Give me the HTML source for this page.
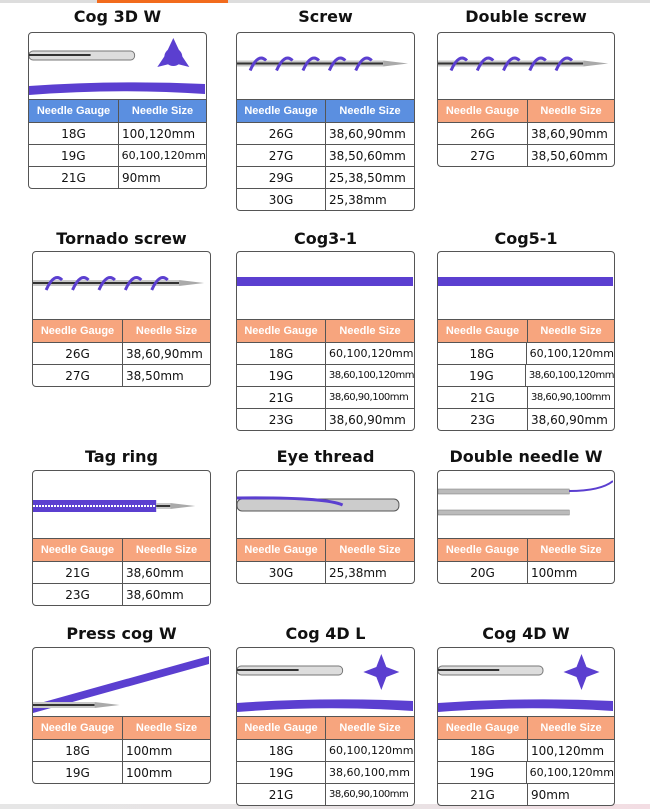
<!DOCTYPE html>
<html><head><meta charset="utf-8">
<style>
*{box-sizing:border-box;margin:0;padding:0}
body{width:650px;height:809px;background:#fff;position:relative;overflow:hidden;font-family:"DejaVu Sans","Liberation Sans",sans-serif}
.title{position:absolute;font-weight:bold;font-size:16px;color:#111;text-align:center;white-space:nowrap;transform:translateX(-50%);line-height:20px}
.card{position:absolute;border:1.5px solid #555;border-radius:4px;overflow:hidden;background:#fff}
.pic{position:absolute;left:0;top:0;width:100%}
.row{position:absolute;left:0;width:100%;border-top:1.5px solid #555;display:flex}
.row div{height:100%;display:flex;align-items:center}
.c1{justify-content:center;border-right:1.5px solid #555;font-size:12px;color:#111}
.c2{padding-left:3px;font-size:12px;color:#111;white-space:nowrap}
.hd div{color:#fff;font-weight:bold;font-size:11px;font-family:"Liberation Sans",sans-serif;justify-content:center;padding:0}
.hd .c1{border-right:1.5px solid #555}
</style></head>
<body>
<div style="position:absolute;left:0;top:0;width:650px;height:3px;background:#ddd"></div>
<div style="position:absolute;left:97px;top:0;width:131px;height:3px;background:#f26b1d"></div>
<div style="position:absolute;left:0;top:804px;width:650px;height:5px;background:linear-gradient(90deg,#e6e6e6,#e8e2e4 60%,#f3dde3)"></div>
<div id="root"></div>
<script>
var productNames=["Cog 3D W","Screw","Double screw","Tornado screw","Cog3-1","Cog5-1","Tag ring","Eye thread","Double needle W","Press cog W","Cog 4D L","Cog 4D W"];
var gauges=[["18G","19G","21G"],["26G","27G","29G","30G"],["26G","27G"],["26G","27G"],["18G","19G","21G","23G"],["18G","19G","21G","23G"],["21G","23G"],["30G"],["20G"],["18G","19G"],["18G","19G","21G"],["18G","19G","21G"]];
var sizes=[["100,120mm","60,100,120mm","90mm"],["38,60,90mm","38,50,60mm","25,38,50mm","25,38mm"],["38,60,90mm","38,50,60mm"],["38,60,90mm","38,50mm"],["60,100,120mm","38,60,100,120mm","38,60,90,100mm","38,60,90mm"],["60,100,120mm","38,60,100,120mm","38,60,90,100mm","38,60,90mm"],["38,60mm","38,60mm"],["25,38mm"],["100mm"],["100mm","100mm"],["60,100,120mm","38,60,100,mm","38,60,90,100mm"],["100,120mm","60,100,120mm","90mm"]];
var kinds=["cog","screw","screw","screw","thread","thread","tag","eye","double","press","cog4","cog4"];
var colX=[[28,207,118],[236,415,325],[437,615,527]];
var rowY=[{t:17,b:32,h:99},{t:239,b:251,h:319},{t:457,b:470,h:538},{t:634,b:647,h:716}];
var rowXoff=[0,4,4,4];
var P="#5b3fd0";
function needle(x1,x2,y){return '<rect x="'+x1+'" y="'+(y-3)+'" width="'+(x2-x1)+'" height="6" fill="#c9c9c9"/><line x1="'+x1+'" y1="'+y+'" x2="'+x2+'" y2="'+y+'" stroke="#333" stroke-width="2"/><polygon points="'+x2+','+(y-3)+' '+(x2+25)+','+y+' '+x2+','+(y+3)+'" fill="#aaa"/>';}
function pic(k,w,h){
 var s='<svg width="'+w+'" height="'+h+'">';
 var m=h/2;
 if(k=="cog"||k=="cog4"){s+='<rect x="0" y="18" width="'+(w*0.6)+'" height="9" rx="4" fill="#ddd" stroke="#777"/><line x1="0" y1="22" x2="'+(w*0.35)+'" y2="22" stroke="#333" stroke-width="2"/>';
  s+='<path d="M0 '+(h-14)+' Q'+w/2+' '+(h-20)+' '+w+' '+(h-16)+' L'+w+' '+(h-6)+' Q'+w/2+' '+(h-12)+' 0 '+(h-5)+'Z" fill="'+P+'"/>';
  var cx=w*0.82;
  if(k=="cog")s+='<polygon points="'+cx+',5 '+(cx+8)+',22 '+(cx+16)+',34 '+cx+',30 '+(cx-16)+',34 '+(cx-8)+',22" fill="'+P+'"/><circle cx="'+cx+'" cy="24" r="9" fill="'+P+'"/>';
  else s+='<polygon points="'+cx+',6 '+(cx+5)+',19 '+(cx+18)+',24 '+(cx+5)+',29 '+cx+',42 '+(cx-5)+',29 '+(cx-18)+',24 '+(cx-5)+',19" fill="'+P+'"/>';}
 else if(k=="screw"){s+=needle(0,w*0.83,m-3);for(var i=0;i<5;i++){var x=w*0.12+i*w*0.15;s+='<path d="M'+(x-8)+' '+(m+4)+' Q'+x+' '+(m-14)+' '+(x+8)+' '+(m-6)+'" stroke="'+P+'" stroke-width="3" fill="none"/>';}}
 else if(k=="thread"){s+='<rect x="0" y="'+(m-9)+'" width="'+w+'" height="9" fill="'+P+'"/>';}
 else if(k=="tag"){s+='<rect x="0" y="'+(m-5)+'" width="'+(w*0.7)+'" height="12" fill="'+P+'"/><line x1="0" y1="'+(m+1)+'" x2="'+(w*0.7)+'" y2="'+(m+1)+'" stroke="#fff" stroke-width="2" stroke-dasharray="2 1"/>'+needle(w*0.7,w*0.78,m+1);}
 else if(k=="eye"){s+='<rect x="0" y="'+(m-6)+'" width="'+(w*0.92)+'" height="12" rx="5" fill="#ccc" stroke="#555"/><path d="M0 '+(m-7)+' Q'+w*0.5+' '+(m-8)+' '+w*0.6+' '+m+'" stroke="'+P+'" stroke-width="3" fill="none"/>';}
 else if(k=="double"){s+='<rect x="0" y="'+(m-16)+'" width="'+(w*0.75)+'" height="5" fill="#bbb" stroke="#777" stroke-width=".5"/><rect x="0" y="'+(m+5)+'" width="'+(w*0.75)+'" height="5" fill="#bbb" stroke="#777" stroke-width=".5"/><path d="M'+w*0.75+' '+(m-14)+' Q'+w*0.93+' '+(m-14)+' '+w+' '+(m-24)+'" stroke="'+P+'" stroke-width="2" fill="none"/>';}
 else if(k=="press"){s+='<path d="M0 '+(h-12)+' L'+w+' 8 L'+w+' 16 L0 '+(h-4)+'Z" fill="'+P+'"/>'+needle(0,w*0.35,h-12);}
 return s+'</svg>';
}
var root=document.getElementById('root');
for(var i=0;i<productNames.length;i++){
 var r=Math.floor(i/3),c=i%3,R=rowY[r];
 var off=(c==0)?rowXoff[r]:0;
 var x1=colX[c][0]+off,x2=colX[c][1]+off,dv=colX[c][2]+off,w=x2-x1;
 var t=document.createElement('div');t.className='title';
 
 
 t.style.left=(x1+w/2)+'px';t.style.top=(R.t-10)+'px';t.textContent=productNames[i];root.appendChild(t);
 var n=gauges[i].length,rh=22,hh=23;
 var card=document.createElement('div');card.className='card';
 
 
 var imgH=R.h-R.b;
 card.style.left=x1+'px';card.style.top=R.b+'px';card.style.width=w+'px';card.style.height=(imgH+hh+n*rh+1)+'px';
 var p=document.createElement('div');p.className='pic';p.style.height=imgH+'px';
 
 
 p.innerHTML=pic(kinds[i],w-3,imgH);card.appendChild(p);
 var hdc=(i==0||i==1)?'#5b8fe0':'#f7a57e';
 var hd=document.createElement('div');hd.className='row hd';
 
 
 hd.style.top=(imgH-1.5)+'px';hd.style.height=(hh+1.5)+'px';hd.style.background=hdc;
 hd.innerHTML='<div class="c1" style="width:'+(dv-x1)+'px">Needle Gauge</div><div class="c2" style="flex:1">Needle Size</div>';
 card.appendChild(hd);
 for(var j=0;j<n;j++){
  var rw=document.createElement('div');rw.className='row';
  
  
  rw.style.top=(imgH+hh+j*rh-1.5)+'px';rw.style.height=(rh+1.5)+'px';
  var sz=sizes[i][j],fs=sz.length>=14?'10px':(sz.length>=12?'11px':'12px');
  rw.innerHTML='<div class="c1" style="width:'+(dv-x1)+'px">'+gauges[i][j]+'</div><div class="c2" style="flex:1;font-size:'+fs+';letter-spacing:'+(sz.length>=14?'-0.5px':'0')+'">'+sz+'</div>';
  card.appendChild(rw);
 }
 root.appendChild(card);
}
</script>
</body></html>
